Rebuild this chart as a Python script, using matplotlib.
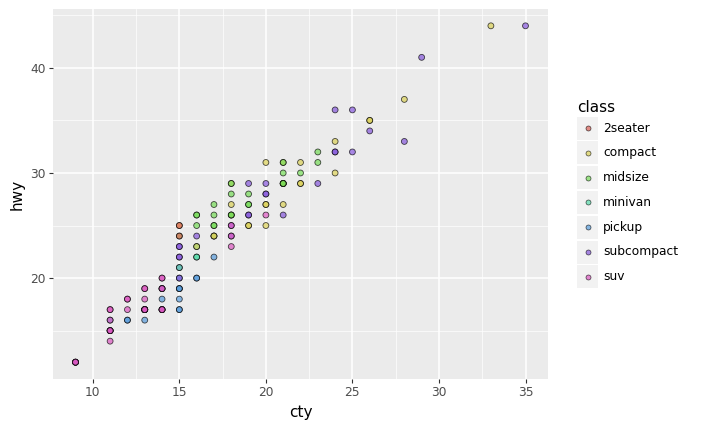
import numpy as np
import pandas as pd
import matplotlib.pyplot as plt
from matplotlib.patches import Rectangle
from matplotlib.lines import Line2D

# Puntos (cty, hwy), una entrada por observacion
pickup_cty = [9, 9, 11, 11, 11, 12, 12, 13, 13, 13, 13, 13, 14, 14, 14, 14, 14,
              15, 15, 15, 15, 15, 15, 15, 16, 16, 17]
pickup_hwy = [12, 12, 16, 15, 15, 16, 16, 17, 17, 17, 17, 16, 19, 19, 18, 17, 17,
              20, 19, 19, 19, 18, 17, 17, 20, 20, 22]

subcompact_cty = [15, 15, 15, 15, 15, 15, 16, 18, 18, 19, 19, 19, 20, 20, 20, 21,
                  21, 23, 24, 24, 24, 25, 25, 26, 28, 29, 35]
subcompact_hwy = [23, 23, 22, 22, 21, 20, 24, 25, 24, 29, 26, 26, 29, 28, 28, 29,
                  26, 29, 36, 32, 32, 36, 32, 34, 33, 41, 44]

suv_cty = [9, 9, 9, 11, 11, 11, 11, 11, 11, 11, 12, 12, 12, 13, 13, 13, 13, 13, 13,
           13, 14, 14, 14, 14, 14, 14, 14, 18, 18, 18, 20]
suv_hwy = [12, 12, 12, 17, 17, 16, 15, 15, 15, 14, 18, 18, 17, 19, 19, 18, 17, 17, 17,
           17, 20, 20, 19, 19, 17, 17, 17, 25, 24, 23, 26]

minivan_cty = [15, 16, 16, 16, 17]
minivan_hwy = [21, 23, 22, 22, 24]

compact_cty = [15, 16, 17, 17, 18, 18, 18, 19, 19, 20, 20, 20, 20, 21, 21, 21, 21,
               22, 22, 22, 24, 24, 26, 26, 28, 33]
compact_hwy = [25, 23, 24, 24, 27, 26, 29, 25, 25, 31, 27, 27, 25, 31, 29, 29, 27,
               31, 29, 29, 33, 30, 35, 35, 37, 44]

midsize_cty = [15, 16, 16, 16, 17, 17, 17, 17, 18, 18, 18, 18, 19, 19, 19, 21, 21,
               21, 21, 22, 23, 23]
midsize_hwy = [24, 26, 26, 25, 27, 26, 25, 25, 29, 28, 26, 26, 28, 27, 27, 31, 30,
               29, 29, 30, 32, 31]

twoseater_cty = [15, 15]
twoseater_hwy = [25, 24]

classes = ['2seater', 'compact', 'midsize', 'minivan', 'pickup', 'subcompact', 'suv']
colors = ['#db5f57', '#dbd057', '#75db57', '#57dbaa', '#579bdb', '#8557db', '#db57c0']

frames = [
    pd.DataFrame({'cty': pickup_cty, 'hwy': pickup_hwy, 'class': 'pickup'}),
    pd.DataFrame({'cty': subcompact_cty, 'hwy': subcompact_hwy, 'class': 'subcompact'}),
    pd.DataFrame({'cty': suv_cty, 'hwy': suv_hwy, 'class': 'suv'}),
    pd.DataFrame({'cty': minivan_cty, 'hwy': minivan_hwy, 'class': 'minivan'}),
    pd.DataFrame({'cty': compact_cty, 'hwy': compact_hwy, 'class': 'compact'}),
    pd.DataFrame({'cty': midsize_cty, 'hwy': midsize_hwy, 'class': 'midsize'}),
    pd.DataFrame({'cty': twoseater_cty, 'hwy': twoseater_hwy, 'class': '2seater'}),
]
df = pd.concat(frames, ignore_index=True)
col_map = dict(zip(classes, colors))

W, H = 704, 430
fig = plt.figure(figsize=(W / 100, H / 100), dpi=100)
ax = fig.add_axes([53 / W, 1 - 379 / H, (548 - 53) / W, (379 - 9) / H])
ax.set_facecolor('#ebebeb')

ax.scatter(df['cty'], df['hwy'], s=18, c=df['class'].map(col_map),
           edgecolors='black', linewidths=0.6, alpha=0.7, zorder=3)

ax.set_xlim(9 - 1.3, 35 + 1.3)
ax.set_ylim(12 - 1.6, 44 + 1.6)
ax.set_xticks([10, 15, 20, 25, 30, 35])
ax.set_yticks([20, 30, 40])
ax.set_xticks(np.arange(12.5, 36, 5), minor=True)
ax.set_yticks([15, 25, 35, 45], minor=True)
ax.grid(True, which='major', color='white', linewidth=1.1, zorder=0)
ax.grid(True, which='minor', color='white', linewidth=0.5, zorder=0)
ax.set_axisbelow(True)
for s in ax.spines.values():
    s.set_visible(False)
ax.tick_params(which='major', length=3, width=0.8, color='#333333',
               labelcolor='#4d4d4d', labelsize=8.8, pad=2)
ax.tick_params(which='minor', length=0)
ax.set_xlabel('cty', fontsize=11, labelpad=4)
ax.set_ylabel('hwy', fontsize=11, labelpad=4)

# Leyenda estilo ggplot
fig.text(577 / W, 1 - 108 / H, 'class', fontsize=11, va='center', ha='left')
for i, (name, c) in enumerate(zip(classes, colors)):
    yc = 128 + i * 24.8
    fig.add_artist(Rectangle((577 / W, 1 - (yc + 11.5) / H), 21 / W, 23 / H,
                             transform=fig.transFigure, facecolor='#f2f2f2',
                             edgecolor='none'))
    fig.add_artist(Line2D([587.5 / W], [1 - yc / H], transform=fig.transFigure,
                          marker='o', markersize=3.6, markerfacecolor=c,
                          markeredgecolor='black', markeredgewidth=0.5,
                          alpha=0.7, linestyle='none'))
    fig.text(603 / W, 1 - yc / H, name, fontsize=8.8, va='center', ha='left')

fig.savefig('out.png', dpi=100)
